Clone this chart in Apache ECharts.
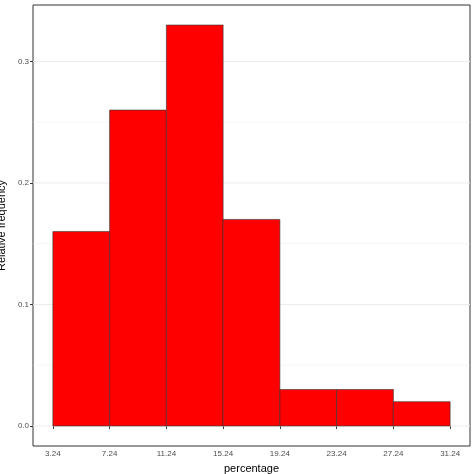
<!DOCTYPE html>
<html><head><meta charset="utf-8">
<script src="https://cdn.jsdelivr.net/npm/echarts@6/dist/echarts.min.js"></script>
<style>html,body{margin:0;padding:0;background:#fff}#c{width:474px;height:474px}</style>
</head><body><div id="c"></div>
<script>
// bins (left edge, right edge) and relative frequencies
var binStart = [3.24, 7.24, 11.24, 15.24, 19.24, 23.24, 27.24];
var binEnd = [7.24, 11.24, 15.24, 19.24, 23.24, 27.24, 31.24];
var freq = [0.16, 0.26, 0.33, 0.17, 0.03, 0.03, 0.02];
var xTicks = [3.24, 7.24, 11.24, 15.24, 19.24, 23.24, 27.24, 31.24];
var xMinor = [5.24, 9.24, 13.24, 17.24, 21.24, 25.24, 29.24];
var yTicks = [0, 0.1, 0.2, 0.3];
var yMinor = [0.05, 0.15, 0.25];

var xMin = 1.84, xMax = 32.64, yMin = -0.0165, yMax = 0.3465;

var bars = binStart.map(function (s, i) { return [s, binEnd[i], freq[i]]; });
var gridData = [];
xTicks.forEach(function (v) { gridData.push(['x', v, 1]); });
xMinor.forEach(function (v) { gridData.push(['x', v, 0.5]); });
yTicks.forEach(function (v) { gridData.push(['y', v, 1]); });
yMinor.forEach(function (v) { gridData.push(['y', v, 0.5]); });

var chart = echarts.init(document.getElementById('c'));
chart.setOption({
  animation: false,
  textStyle: { fontFamily: 'Liberation Sans, Arial, sans-serif' },
  grid: { left: 33, right: 4, top: 5, bottom: 28, outerBoundsMode: 'none', containLabel: false,
    show: true, borderColor: '#333', borderWidth: 1 },
  xAxis: {
    type: 'value', min: xMin, max: xMax,
    name: 'percentage', nameLocation: 'middle', nameGap: 17,
    nameTextStyle: { fontSize: 11, color: '#000' },
    axisLine: { show: false },
    axisTick: { show: true, length: 3, lineStyle: { color: '#333' }, customValues: xTicks },
    axisLabel: { fontSize: 8, color: '#4d4d4d', margin: 4, customValues: xTicks, formatter: function (v) { return v.toFixed(2); } },
    splitLine: { show: false }
  },
  yAxis: {
    type: 'value', min: yMin, max: yMax,
    name: 'Relative frequency', nameLocation: 'middle', nameGap: 22,
    nameTextStyle: { fontSize: 11, color: '#000' },
    axisLine: { show: false },
    axisTick: { show: true, length: 3, lineStyle: { color: '#333' }, customValues: yTicks },
    axisLabel: { fontSize: 8, color: '#4d4d4d', margin: 4, customValues: yTicks, formatter: function (v) { return v.toFixed(1); } },
    splitLine: { show: false }
  },
  series: [
    {
      type: 'custom', silent: true, z: 1, data: gridData,
      renderItem: function (params, api) {
        var kind = api.value(0), v = api.value(1), w = api.value(2);
        var cs = params.coordSys, p;
        var shape;
        if (kind === 'x') { p = api.coord([v, 0]); shape = { x1: p[0], y1: cs.y, x2: p[0], y2: cs.y + cs.height }; }
        else { p = api.coord([0, v]); shape = { x1: cs.x, y1: p[1], x2: cs.x + cs.width, y2: p[1] }; }
        return { type: 'line', shape: shape, style: { stroke: '#ebebeb', lineWidth: w } };
      }
    },
    {
      type: 'custom', z: 2, data: bars,
      renderItem: function (params, api) {
        var a = api.coord([api.value(0), api.value(2)]);
        var b = api.coord([api.value(1), 0]);
        return { type: 'rect', shape: { x: a[0], y: a[1], width: b[0] - a[0], height: b[1] - a[1] },
          style: { fill: '#ff0000', stroke: '#333', lineWidth: 0.6 } };
      }
    }
  ]
});
</script></body></html>
